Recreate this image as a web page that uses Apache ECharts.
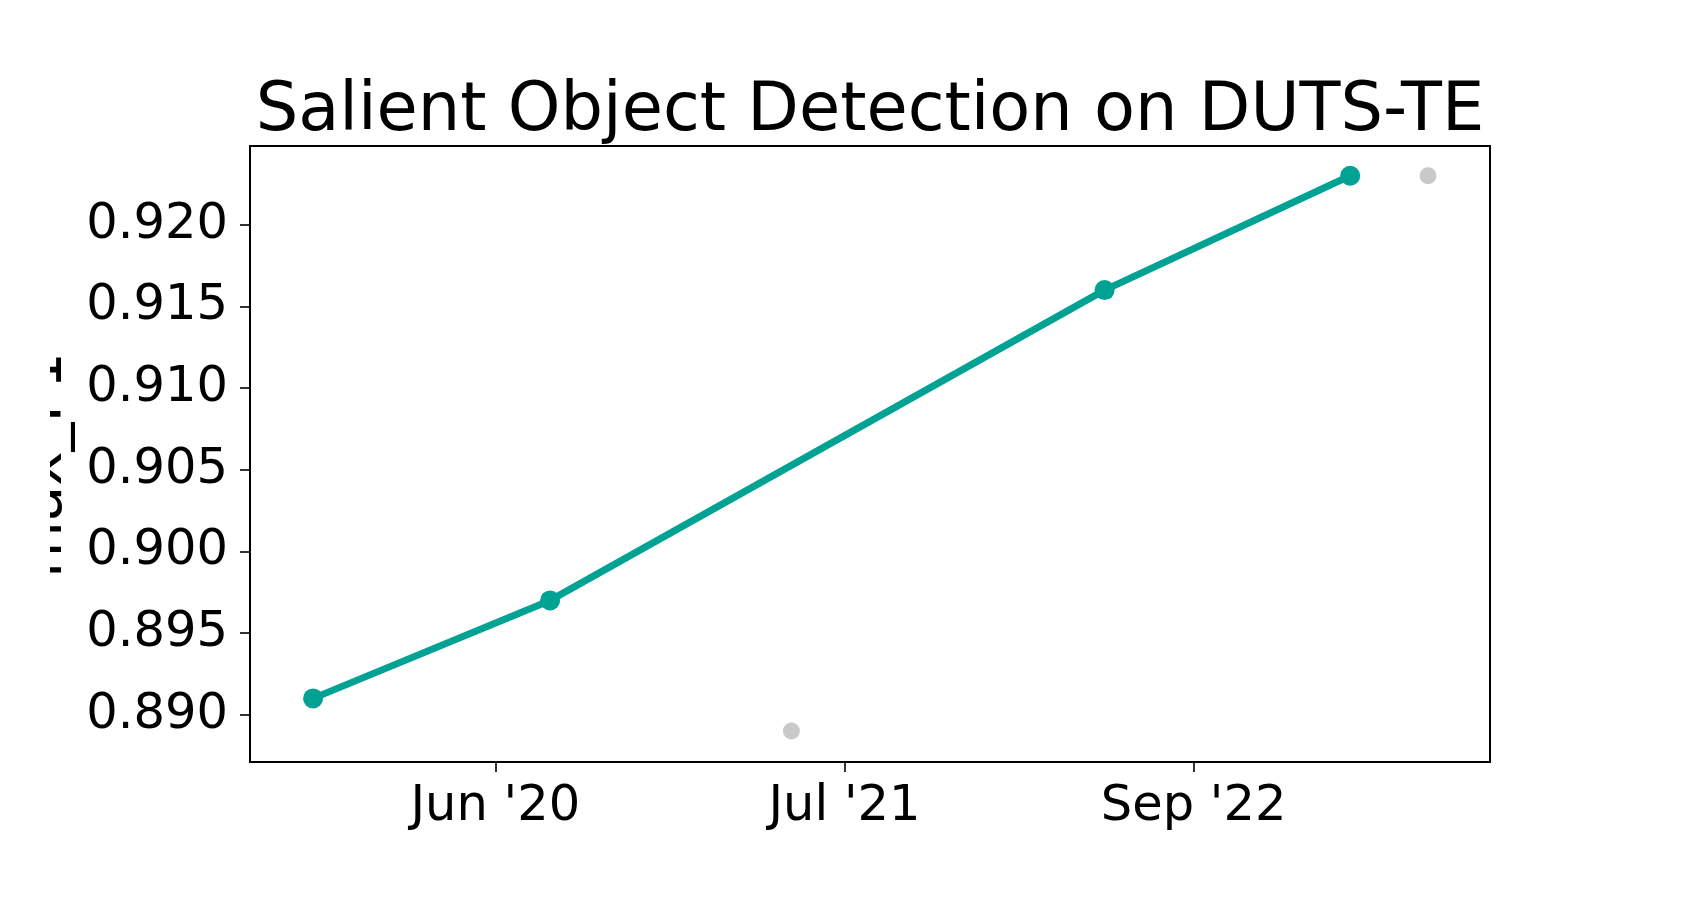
<!DOCTYPE html>
<html>
<head>
<meta charset="utf-8">
<script src="https://cdn.jsdelivr.net/npm/echarts@6/dist/echarts.min.js"></script>
<style>html,body{margin:0;padding:0;background:#fff;}#c{width:1700px;height:900px;}</style>
</head>
<body>
<div id="c"></div>
<script>
// ---- data ----
const titleText = 'Salient Object Detection on DUTS-TE';
const yAxisName = 'max_F1';
const sotaDates = ['2019-11-15', '2020-08-18', '2022-05-28', '2023-03-11'];
const sotaValues = [0.891, 0.897, 0.916, 0.923];
const otherDates = ['2021-05-27', '2023-06-10'];
const otherValues = [0.889, 0.923];
const xTickDates = ['2020-06-15', '2021-07-28', '2022-09-09'];
const xTickLabels = ["Jun '20", "Jul '21", "Sep '22"];
const yTickValues = [0.890, 0.895, 0.900, 0.905, 0.910, 0.915, 0.920];
const yTickLabels = ['0.890', '0.895', '0.900', '0.905', '0.910', '0.915', '0.920'];
const xRange = ['2019-09-02T07:00:00Z', '2023-08-21T10:00:00Z'];
const yRange = [0.887105, 0.924822];

const ts = s => Date.parse(s.length === 10 ? s + 'T00:00:00Z' : s);
const xTickTs = xTickDates.map(ts);
const FONT = 'DejaVu Sans';

const chart = echarts.init(document.getElementById('c'), null, {renderer: 'canvas'});
chart.setOption({
  animation: false,
  backgroundColor: '#ffffff',
  title: {
    text: titleText,
    left: 865, textAlign: 'center',
    top: 74,
    textStyle: {fontFamily: FONT, fontSize: 67, fontWeight: 'normal', color: '#000'}
  },
  grid: {
    left: 250, top: 146, width: 1240, height: 616,
    show: true, borderColor: '#000', borderWidth: 2, backgroundColor: 'transparent'
  },
  xAxis: {
    type: 'value',
    min: ts(xRange[0]), max: ts(xRange[1]),
    axisLine: {show: true, lineStyle: {color: '#000', width: 2}},
    axisTick: {show: true, length: 10, lineStyle: {color: '#000', width: 1.6}, customValues: xTickTs},
    axisLabel: {
      customValues: xTickTs,
      margin: 20,
      fontFamily: FONT, fontSize: 49.5, color: '#000',
      formatter: v => { const i = xTickTs.indexOf(v); return i >= 0 ? xTickLabels[i] : ''; }
    },
    splitLine: {show: false}
  },
  yAxis: {
    type: 'value',
    min: yRange[0], max: yRange[1],
    name: yAxisName,
    nameLocation: 'middle',
    nameRotate: 90,
    nameGap: 169,
    nameTextStyle: {fontFamily: FONT, fontSize: 58, color: '#000', padding: [0, 22, 0, 0]},
    axisLine: {show: true, lineStyle: {color: '#000', width: 2}},
    axisTick: {show: true, length: 10, lineStyle: {color: '#000', width: 1.6}, customValues: yTickValues},
    axisLabel: {
      customValues: yTickValues,
      margin: 22,
      fontFamily: FONT, fontSize: 49.5, color: '#000',
      formatter: v => { const i = yTickValues.findIndex(t => Math.abs(t - v) < 1e-9); return i >= 0 ? yTickLabels[i] : ''; }
    },
    splitLine: {show: false}
  },
  graphic: [{
    type: 'rect', left: 0, top: 0, z: 1000,
    shape: {x: 0, y: 0, width: 50, height: 900},
    style: {fill: '#ffffff'}
  }],
  series: [
    {
      name: 'other', type: 'scatter',
      data: otherDates.map((d, i) => [ts(d), otherValues[i]]),
      symbolSize: 17,
      itemStyle: {color: '#bbbbbb'},
      z: 2
    },
    {
      name: 'sota', type: 'line',
      data: sotaDates.map((d, i) => [ts(d), sotaValues[i]]),
      symbol: 'circle', symbolSize: 20, showSymbol: true,
      lineStyle: {color: '#00a393', width: 7},
      itemStyle: {color: '#00a393'},
      z: 3
    }
  ]
});
</script>
</body>
</html>
